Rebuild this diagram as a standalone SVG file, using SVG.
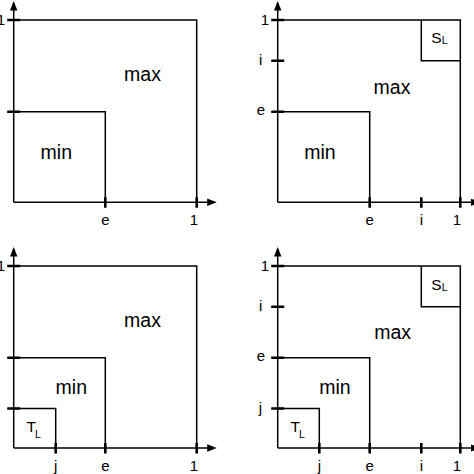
<svg xmlns="http://www.w3.org/2000/svg" width="474" height="474" viewBox="0 0 474 474">
<style>
  .ln{fill:none;stroke:#000;stroke-width:1.5}
  .ax{fill:none;stroke:#000;stroke-width:1.5;marker-end:url(#arr)}
  .tk{fill:none;stroke:#000;stroke-width:2.6}
  text{font-family:"Liberation Sans",Arial,Helvetica,sans-serif;fill:#000}
  .big{font-size:19.5px;text-anchor:middle}
  .lab{font-size:15px;text-anchor:middle}
  .sym{font-size:15.5px}
  .sub{font-size:10.5px}
</style>
<defs>
  <marker id="arr" markerUnits="userSpaceOnUse" markerWidth="10" markerHeight="8" refX="7.5" refY="3.7" orient="auto" viewBox="0 0 10 7.4">
    <path d="M0,0 L9.5,3.7 L0,7.4 Z" fill="#000"/>
  </marker>
</defs>
<rect width="474" height="474" fill="#fff"/>

<!-- Panel A: top-left -->
<g id="panel-a">
  <g id="a-max"><path class="ln" d="M13.7,20 H196.7 V202.3"/><text class="big" x="142.5" y="81">max</text></g>
  <g id="a-min"><path class="ln" d="M13.7,111.7 H105.3 V202.3"/><text class="big" x="56.3" y="159.3">min</text></g>
  <g id="a-axes">
    <path class="ax" d="M13.7,202.3 H214.7"/>
    <path class="ax" d="M13.7,202.3 V3"/>
    <path class="tk" d="M105.3,197.3 V207.8 M196.7,197.3 V207.8 M7.2,20 H20.2 M7.2,111.7 H20.2"/>
    <text class="lab" x="105.3" y="225">e</text>
    <text class="lab" x="194" y="225">1</text>
    <text class="lab" x="1" y="25">1</text>
  </g>
</g>

<!-- Panel B: top-right -->
<g id="panel-b">
  <g id="b-max"><path class="ln" d="M277.7,20 H460.3 V202.3"/><text class="big" x="392" y="93.5">max</text></g>
  <g id="b-min"><path class="ln" d="M277.7,111.7 H369.7 V202.3"/><text class="big" x="320" y="159.3">min</text></g>
  <g id="b-sl"><path class="ln" d="M421.3,20 V60.7 H460.3"/><text class="sym" x="431.3" y="43.3">S</text><text class="sub" x="441.7" y="44.3">L</text></g>
  <g id="b-axes">
    <path class="ax" d="M277.7,202.3 H478.3"/>
    <path class="ax" d="M277.7,202.3 V3"/>
    <path class="tk" d="M369.7,197.3 V207.8 M421.3,197.3 V207.8 M460.3,197.3 V207.8 M271.2,20 H284.2 M271.2,60.7 H284.2 M271.2,111.7 H284.2"/>
    <text class="lab" x="369.7" y="225">e</text>
    <text class="lab" x="421.3" y="225">i</text>
    <text class="lab" x="457" y="225">1</text>
    <text class="lab" x="265" y="25">1</text>
    <text class="lab" x="260.7" y="65">i</text>
    <text class="lab" x="260.8" y="115">e</text>
  </g>
</g>

<!-- Panel C: bottom-left -->
<g id="panel-c">
  <g id="c-max"><path class="ln" d="M13.7,266 H196.7 V448"/><text class="big" x="142.5" y="327">max</text></g>
  <g id="c-min"><path class="ln" d="M13.7,357.7 H105.3 V448"/><text class="big" x="71.3" y="393.7">min</text></g>
  <g id="c-tl"><path class="ln" d="M13.7,408.5 H55.7 V448"/><text class="sym" x="26.5" y="431.7">T</text><text class="sub" x="35" y="437.7">L</text></g>
  <g id="c-axes">
    <path class="ax" d="M13.7,448 H214.7"/>
    <path class="ax" d="M13.7,448 V249"/>
    <path class="tk" d="M55.7,443 V453.5 M105.3,443 V453.5 M196.7,443 V453.5 M7.2,266 H20.2 M7.2,357.7 H20.2 M7.2,408.5 H20.2"/>
    <text class="lab" x="55.7" y="470.5">j</text>
    <text class="lab" x="105.3" y="470.5">e</text>
    <text class="lab" x="194" y="470.5">1</text>
    <text class="lab" x="1" y="271">1</text>
  </g>
</g>

<!-- Panel D: bottom-right -->
<g id="panel-d">
  <g id="d-max"><path class="ln" d="M277.7,266 H460.3 V448"/><text class="big" x="392.7" y="339">max</text></g>
  <g id="d-min"><path class="ln" d="M277.7,357.7 H369.7 V448"/><text class="big" x="335" y="393.7">min</text></g>
  <g id="d-sl"><path class="ln" d="M421.3,266 V306.7 H460.3"/><text class="sym" x="431.3" y="289.5">S</text><text class="sub" x="441.7" y="290.5">L</text></g>
  <g id="d-tl"><path class="ln" d="M277.7,408.5 H319.3 V448"/><text class="sym" x="290.5" y="431.7">T</text><text class="sub" x="299" y="437.7">L</text></g>
  <g id="d-axes">
    <path class="ax" d="M277.7,448 H478.3"/>
    <path class="ax" d="M277.7,448 V249"/>
    <path class="tk" d="M319.3,443 V453.5 M369.7,443 V453.5 M421.3,443 V453.5 M460.3,443 V453.5 M271.2,266 H284.2 M271.2,306.7 H284.2 M271.2,357.7 H284.2 M271.2,408.5 H284.2"/>
    <text class="lab" x="319.3" y="470.5">j</text>
    <text class="lab" x="369.7" y="470.5">e</text>
    <text class="lab" x="421.3" y="470.5">i</text>
    <text class="lab" x="457" y="470.5">1</text>
    <text class="lab" x="265" y="271">1</text>
    <text class="lab" x="260.7" y="311">i</text>
    <text class="lab" x="260.8" y="361">e</text>
    <text class="lab" x="260.3" y="412.5">j</text>
  </g>
</g>
</svg>
